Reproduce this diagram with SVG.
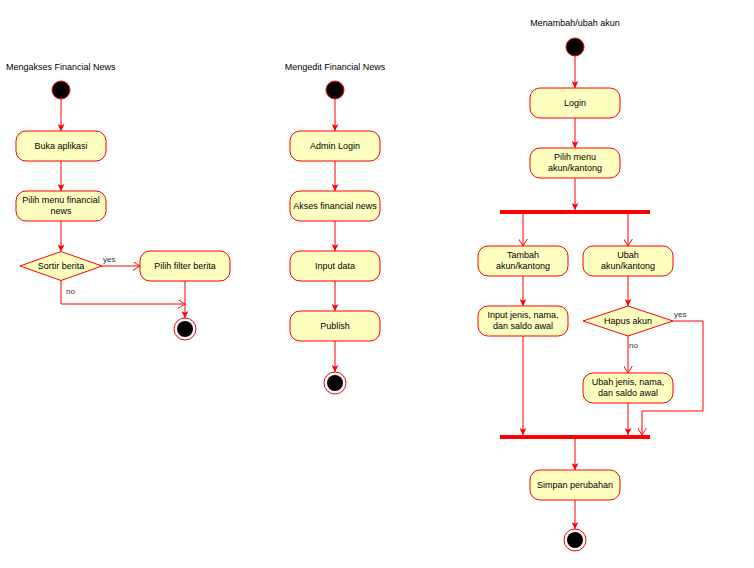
<svg xmlns="http://www.w3.org/2000/svg" width="754" height="568" viewBox="0 0 754 568">
<style>
text{font-family:"Liberation Sans",Arial,sans-serif;font-size:9px;fill:#000}
.t{text-anchor:middle}
.lbl{font-size:8px;fill:#333}
.act{fill:#FFFFC0;stroke:#FF0000;stroke-width:1}
.dec{fill:#FFFFC0;stroke:#FF0000;stroke-width:1}
.start{fill:#000;stroke:#FF0000;stroke-width:1}
.endo{fill:none;stroke:#FF0000;stroke-width:1}
.endi{fill:#000;stroke:none}
.bar{fill:#FF0000}
.c{fill:none;stroke:#FF0000;stroke-width:1}
.f{marker-end:url(#fa)}
.o{marker-end:url(#oa)}
</style>
<defs>
<marker id="fa" viewBox="0 0 8 8" refX="8" refY="4" markerWidth="7" markerHeight="7" markerUnits="userSpaceOnUse" orient="auto">
<path d="M0,0 L8,4 L0,8 L2,4 z" fill="#FF0000"/>
</marker>
<marker id="oa" viewBox="0 0 8 10" refX="8" refY="5" markerWidth="7" markerHeight="9" markerUnits="userSpaceOnUse" orient="auto">
<path d="M0,0 L8,5 L0,10" fill="none" stroke="#FF0000" stroke-width="1.1"/>
</marker>
</defs>

<g id="titles">
<text x="6" y="70">Mengakses Financial News</text>
<text class="t" x="335" y="70">Mengedit Financial News</text>
<text class="t" x="575" y="26">Menambah/ubah akun</text>
</g>

<!-- Diagram 1 -->
<g id="d1-start"><circle class="start" cx="61" cy="90" r="9"/></g>
<g id="d1-buka"><rect class="act" x="16" y="131" width="90" height="30" rx="10"/><text class="t" x="61" y="149">Buka aplikasi</text></g>
<g id="d1-pilih"><rect class="act" x="16" y="191" width="90" height="30" rx="10"/><text class="t" x="61" y="203">Pilih menu financial</text><text class="t" x="61" y="214">news</text></g>
<g id="d1-sortir"><polygon class="dec" points="61,251.5 102,266 61,280.5 20,266"/><text class="t" x="61" y="269">Sortir berita</text></g>
<g id="d1-filter"><rect class="act" x="140" y="251" width="90" height="30" rx="10"/><text class="t" x="185" y="269">Pilih filter berita</text></g>
<g id="d1-end"><circle class="endo" cx="185" cy="329" r="11"/><circle class="endi" cx="185" cy="329" r="8"/></g>

<!-- Diagram 2 -->
<g id="d2-start"><circle class="start" cx="335" cy="90" r="9"/></g>
<g id="d2-login"><rect class="act" x="290" y="131" width="90" height="30" rx="10"/><text class="t" x="335" y="149">Admin Login</text></g>
<g id="d2-akses"><rect class="act" x="290" y="191" width="90" height="30" rx="10"/><text class="t" x="335" y="209">Akses financial news</text></g>
<g id="d2-input"><rect class="act" x="290" y="251" width="90" height="30" rx="10"/><text class="t" x="335" y="269">Input data</text></g>
<g id="d2-publish"><rect class="act" x="290" y="311" width="90" height="30" rx="10"/><text class="t" x="335" y="329">Publish</text></g>
<g id="d2-end"><circle class="endo" cx="335" cy="383" r="11"/><circle class="endi" cx="335" cy="383" r="8"/></g>

<!-- Diagram 3 -->
<g id="d3-start"><circle class="start" cx="575" cy="47" r="9"/></g>
<g id="d3-login"><rect class="act" x="530" y="88" width="90" height="30" rx="10"/><text class="t" x="575" y="106">Login</text></g>
<g id="d3-pilih"><rect class="act" x="530" y="148" width="90" height="30" rx="10"/><text class="t" x="575" y="160">Pilih menu</text><text class="t" x="575" y="171">akun/kantong</text></g>
<g id="d3-fork"><rect class="bar" x="500" y="210" width="150" height="4"/></g>
<g id="d3-tambah"><rect class="act" x="478" y="246" width="90" height="30" rx="10"/><text class="t" x="523" y="258">Tambah</text><text class="t" x="523" y="269">akun/kantong</text></g>
<g id="d3-ubah"><rect class="act" x="583" y="246" width="90" height="30" rx="10"/><text class="t" x="628" y="258">Ubah</text><text class="t" x="628" y="269">akun/kantong</text></g>
<g id="d3-inputjenis"><rect class="act" x="478" y="306" width="90" height="30" rx="10"/><text class="t" x="523" y="318">Input jenis, nama,</text><text class="t" x="523" y="329">dan saldo awal</text></g>
<g id="d3-hapus"><polygon class="dec" points="628,306 673,321 628,336 583,321"/><text class="t" x="628" y="324">Hapus akun</text></g>
<g id="d3-ubahjenis"><rect class="act" x="583" y="373" width="90" height="30" rx="10"/><text class="t" x="628" y="385">Ubah jenis, nama,</text><text class="t" x="628" y="396">dan saldo awal</text></g>
<g id="d3-join"><rect class="bar" x="500" y="435" width="150" height="4"/></g>
<g id="d3-simpan"><rect class="act" x="530" y="470" width="90" height="30" rx="10"/><text class="t" x="575" y="488">Simpan perubahan</text></g>
<g id="d3-end"><circle class="endo" cx="575" cy="540" r="11"/><circle class="endi" cx="575" cy="540" r="8"/></g>

<g id="connectors">
<path class="c f" d="M61,99 L61,131"/>
<path class="c f" d="M61,161 L61,191"/>
<path class="c f" d="M61,221 L61,251.5"/>
<path class="c o" d="M102,266 L140,266"/>
<path class="c o" d="M61,280.5 L61,304 L185,304"/>
<path class="c f" d="M185,281 L185,318"/>

<path class="c f" d="M335,99 L335,131"/>
<path class="c f" d="M335,161 L335,191"/>
<path class="c f" d="M335,221 L335,251"/>
<path class="c f" d="M335,281 L335,311"/>
<path class="c f" d="M335,341 L335,372"/>

<path class="c f" d="M575,56 L575,88"/>
<path class="c f" d="M575,118 L575,148"/>
<path class="c f" d="M575,178 L575,210"/>
<path class="c o" d="M523,214 L523,246"/>
<path class="c o" d="M628,214 L628,246"/>
<path class="c f" d="M523,276 L523,306"/>
<path class="c f" d="M628,276 L628,306"/>
<path class="c o" d="M628,336 L628,373"/>
<path class="c o" d="M673,321 L703,321 L703,411 L642,411 L642,435"/>
<path class="c f" d="M523,336 L523,435"/>
<path class="c f" d="M628,403 L628,435"/>
<path class="c f" d="M575,439 L575,470"/>
<path class="c f" d="M575,500 L575,529"/>
</g>

<g id="labels">
<text class="lbl" x="103" y="262">yes</text>
<text class="lbl" x="66" y="294">no</text>
<text class="lbl" x="674" y="317">yes</text>
<text class="lbl" x="629" y="348">no</text>
</g>
</svg>
